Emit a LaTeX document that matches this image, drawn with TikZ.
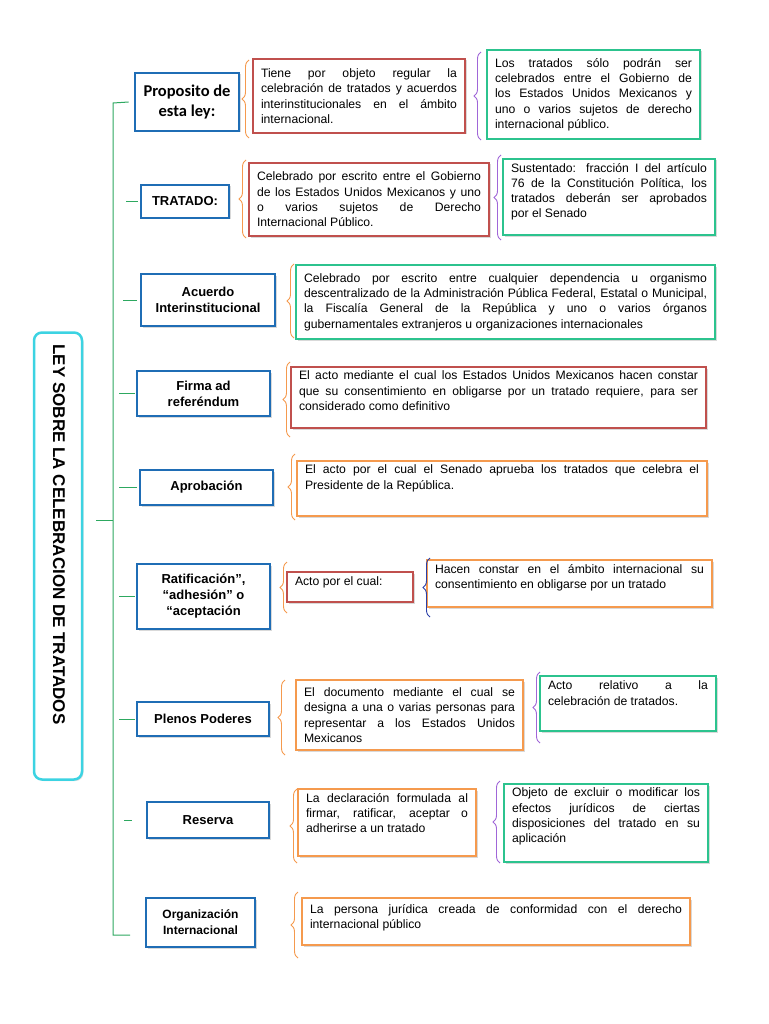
\documentclass[tikz,border=0pt]{standalone}
\usepackage{fontspec}
\setmainfont{Liberation Sans}
\newfontfamily\calibri{Carlito}
\usetikzlibrary{calc,positioning,decorations.pathreplacing,shadows}
\definecolor{cBlue}{HTML}{1F6DB5}
\definecolor{cRed}{HTML}{C0504D}
\definecolor{cGreen}{HTML}{2CC38E}
\definecolor{cOrange}{HTML}{F59A4E}
\definecolor{cPurple}{HTML}{A066D8}
\definecolor{cNavy}{HTML}{2A3FA8}
\definecolor{cLine}{HTML}{2DA860}
\definecolor{cCyan}{HTML}{3CD3E2}
\hyphenpenalty=10000
\exhyphenpenalty=10000

\begin{document}
\begin{tikzpicture}[x=1pt,y=-1pt,
	topic/.style={draw=cBlue,line width=2.6pt,fill=white,align=center,inner sep=2pt,
		font=\bfseries\fontsize{13}{16}\selectfont,
		drop shadow={opacity=.3,shadow xshift=1.5pt,shadow yshift=-1.5pt}},
	tbox/.style={line width=2.3pt,fill=white,
		drop shadow={opacity=.3,shadow xshift=1.5pt,shadow yshift=-1.5pt}},
	redbox/.style={tbox,draw=cRed},
	greenbox/.style={tbox,draw=cGreen},
	orangebox/.style={tbox,draw=cOrange},
	txt/.style={font=\fontsize{12.2}{15.3}\selectfont,align=justify,inner sep=0pt},
	brace/.style={line width=.9pt,decorate,decoration={brace,amplitude=7pt}},
	gline/.style={draw=cLine,line width=1pt}]
	\useasboundingbox (0,0) rectangle (768,1024);
	% title
	\node[draw=cCyan,line width=2.5pt,rounded corners=8pt,fill=white,minimum width=48,minimum height=447,
		drop shadow={opacity=.25,shadow xshift=1.5pt,shadow yshift=-1.5pt}] (title) at (58,556) {};
	\node[rotate=-90,anchor=west,font=\bfseries\fontsize{17}{20}\selectfont] (titletxt) at (59,341) {LEY SOBRE LA CELEBRACION DE TRATADOS};
	% left column
	\node[topic,minimum width=104,minimum height=58,font=\calibri\bfseries\fontsize{16.5}{20}\selectfont] (prop) at (187,102) {Proposito de\\esta ley:};
	\node[topic,minimum width=88,minimum height=33] (trat) at (185,201.5) {TRATADO:};
	\node[topic,minimum width=134,minimum height=52] (acu) at (208,300) {Acuerdo\\Interinstitucional};
	\node[topic,minimum width=133,minimum height=45] (firma) at (203.5,393.5) {Firma ad\\referéndum};
	\node[topic,minimum width=133,minimum height=35] (apro) at (206.5,487.5) {Aprobación};
	\node[topic,minimum width=133,minimum height=65] (rati) at (203.5,596.5) {Ratificación”,\\“adhesión” o\\“aceptación};
	\node[topic,minimum width=132,minimum height=34] (plen) at (203,719) {Plenos Poderes};
	\node[topic,minimum width=122,minimum height=36] (rese) at (208,820) {Reserva};
	\node[topic,minimum width=109,minimum height=49,font=\bfseries\fontsize{12}{16}\selectfont] (orga) at (200.5,922.5) {Organización\\Internacional};
	% green connectors
	\coordinate (top) at (113,103);
	\coordinate (bot) at (113,935);
	\draw[gline] ($(prop.west)+(-5,0)$) -- (top) -- (bot) -- ++(17,0);
	\draw[gline] (96,520) -- (113,520);
	\foreach \n/\g/\s in {trat/2/12,acu/3/14,firma/1/16,apro/2/18,rati/1/16,plen/1/16,rese/14/8}
		\draw[gline] ($(\n.west)+(-\g,0)$) -- ++(-\s,0);
	% boxes
	\node[redbox,minimum width=212,minimum height=74] (r1) at (359,96) {};
	\node[txt,text width=196] at (r1) {Tiene por objeto regular la\linebreak celebración de tratados y acuerdos\linebreak interinstitucionales en el ámbito\linebreak internacional.};
	\node[greenbox,minimum width=213,minimum height=89] (g1) at (593.5,94.5) {};
	\node[txt,text width=197] at (g1) {Los tratados sólo podrán ser\linebreak celebrados entre el Gobierno de\linebreak los Estados Unidos Mexicanos y\linebreak uno o varios sujetos de derecho\linebreak internacional público.};
	\node[redbox,minimum width=240,minimum height=73] (r2) at (369,199.5) {};
	\node[txt,text width=224] at (r2) {Celebrado por escrito entre el Gobierno\linebreak de los Estados Unidos Mexicanos y uno\linebreak o varios sujetos de Derecho\linebreak Internacional Público.};
	\node[greenbox,minimum width=212,minimum height=76] (g2) at (609,197) {};
	\node[txt,text width=196,anchor=north] at ($(g2.north)+(0,5)$) {Sustentado: fracción I del artículo\linebreak 76 de la Constitución Política, los\linebreak tratados deberán ser aprobados\linebreak por el Senado};
	\node[greenbox,minimum width=419,minimum height=74] (g3) at (505.5,302) {};
	\node[txt,text width=403] at (g3) {Celebrado por escrito entre cualquier dependencia u organismo\linebreak descentralizado de la Administración Pública Federal, Estatal o Municipal,\linebreak la Fiscalía General de la República y uno o varios órganos\linebreak gubernamentales extranjeros u organizaciones internacionales};
	\node[redbox,minimum width=415,minimum height=61] (r4) at (498.5,397.5) {};
	\node[txt,text width=399,anchor=north] at ($(r4.north)+(0,5)$) {El acto mediante el cual los Estados Unidos Mexicanos hacen constar\linebreak que su consentimiento en obligarse por un tratado requiere, para ser\linebreak considerado como definitivo};
	\node[orangebox,minimum width=410,minimum height=55] (o5) at (502,488.5) {};
	\node[txt,text width=394,anchor=north] at ($(o5.north)+(0,5)$) {El acto por el cual el Senado aprueba los tratados que celebra el\linebreak Presidente de la República.};
	\node[redbox,minimum width=126,minimum height=30] (r6) at (350,587) {};
	\node[txt,text width=110,anchor=north] at ($(r6.north)+(0,6)$) {Acto por el cual:};
	\node[orangebox,minimum width=285,minimum height=47] (o6) at (569.5,583.5) {};
	\node[txt,text width=269,anchor=north] at ($(o6.north)+(0,5)$) {Hacen constar en el ámbito internacional su\linebreak consentimiento en obligarse por un tratado};
	\node[orangebox,minimum width=227,minimum height=70] (o7) at (409.5,715) {};
	\node[txt,text width=211] at (o7) {El documento mediante el cual se\linebreak designa a una o varias personas para\linebreak representar a los Estados Unidos\linebreak Mexicanos};
	\node[greenbox,minimum width=176,minimum height=55] (g7) at (628,703.5) {};
	\node[txt,text width=160,anchor=north] at ($(g7.north)+(0,6)$) {Acto relativo a la\linebreak celebración de tratados.};
	\node[orangebox,minimum width=178,minimum height=67] (o8) at (387,822.5) {};
	\node[txt,text width=162,anchor=north] at ($(o8.north)+(0,5)$) {La declaración formulada al\linebreak firmar, ratificar, aceptar o\linebreak adherirse a un tratado};
	\node[greenbox,minimum width=204,minimum height=78] (g8) at (606,823) {};
	\node[txt,text width=188,anchor=north] at ($(g8.north)+(0,5)$) {Objeto de excluir o modificar los\linebreak efectos jurídicos de ciertas\linebreak disposiciones del tratado en su\linebreak aplicación};
	\node[orangebox,minimum width=388,minimum height=47] (o9) at (496,921.5) {};
	\node[txt,text width=372,anchor=north] at ($(o9.north)+(0,7)$) {La persona jurídica creada de conformidad con el derecho\linebreak internacional público};
	% braces
	\draw[brace,cOrange] (249,138) -- (249,60);
	\draw[brace,cPurple] (481,140) -- (481,52);
	\draw[brace,cOrange] (246,238) -- (246,160);
	\draw[brace,cPurple] (501,240) -- (501,155);
	\draw[brace,cOrange] (294,338) -- (294,264);
	\draw[brace,cOrange] (290,437) -- (290,362);
	\draw[brace,cOrange] (295,520) -- (295,454);
	\draw[brace,cOrange] (287,613) -- (287,562);
	\draw[brace,cNavy] (430,617) -- (430,558);
	\draw[brace,cOrange] (285,755) -- (285,680);
	\draw[brace,cPurple] (540,743) -- (540,672);
	\draw[brace,cOrange] (297,863) -- (297,789);
	\draw[brace,cPurple] (500,863) -- (500,781);
	\draw[brace,cOrange] (298,958) -- (298,892);
\end{tikzpicture}
\end{document}
